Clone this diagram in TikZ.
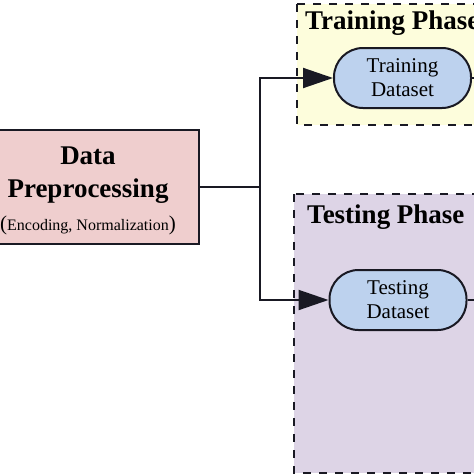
\documentclass[tikz,border=0pt]{standalone}
\usepackage{fontspec}
\setmainfont{Liberation Serif}
\usetikzlibrary{arrows.meta}
\definecolor{pinkfill}{RGB}{239,206,206}
\definecolor{yellowfill}{RGB}{253,253,220}
\definecolor{lavfill}{RGB}{221,212,230}
\definecolor{bluefill}{RGB}{189,210,238}
\definecolor{edge}{RGB}{25,25,35}
\begin{document}
\begin{tikzpicture}[x=1pt,y=-1pt,
  phase/.style={draw=edge, line width=2.2pt, dash pattern=on 8pt off 8pt},
  pill/.style={draw=edge, fill=bluefill, line width=2pt, rounded corners=29pt,
    minimum width=137pt, minimum height=60pt, inner sep=0pt, align=center,
    font=\fontsize{21}{24}\selectfont},
  title/.style={font=\bfseries\fontsize{27}{32}\selectfont, inner sep=0pt},
  conn/.style={draw=edge, line width=2pt},
  arr/.style={conn, -{Triangle[length=30pt,width=20pt]}}]
\useasboundingbox (0,0) rectangle (474,474);
\clip (0,0) rectangle (474,474);
% phase boxes
\path[phase, fill=yellowfill] (297,4) rectangle (500,125);
\path[phase, fill=lavfill] (294,194) rectangle (500,473);
\node[title, anchor=base west] (trt) at (305,29) {Training Phase};
\node[title, anchor=base west] (tet) at (307,223) {Testing Phase};
% datasets
\node[pill] (tr) at (402.5,78) {Training\\Dataset};
\node[pill] (te) at (398,300) {Testing\\Dataset};
\coordinate (tro) at (490,78);
\coordinate (teo) at (490,300);
\draw[conn] (tr.east) -- (tro);
\draw[conn] (te.east) -- (teo);
% data preprocessing
\node[draw=edge, fill=pinkfill, line width=2pt, minimum width=222pt,
  minimum height=114pt, inner sep=0pt] (dp) at (88,187) {};
\node[title, anchor=base] (dpa) at (88,164) {Data};
\node[title, anchor=base] (dpb) at (88,197) {Preprocessing};
\node[font=\fontsize{16}{20}\selectfont, anchor=base, inner sep=0pt] (dpc) at (88,230)
  {{\fontsize{21}{21}\selectfont(}Encoding, Normalization{\fontsize{21}{21}\selectfont)}};
% connectors
\coordinate (j) at (260,187);
\draw[conn] (dp.east) -- (j);
\draw[arr] (j) |- (tr.west);
\draw[arr] (j) |- (te.west);
\end{tikzpicture}
\end{document}
